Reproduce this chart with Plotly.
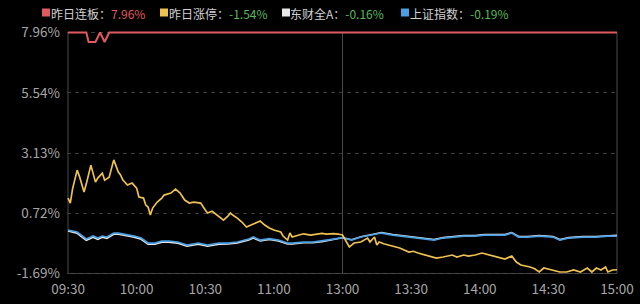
import plotly.graph_objects as go

# ---- data (minutes since 09:30, trading time; 120 = 13:00) ----
red_t = [0, 8, 9, 12, 14, 16, 18, 240]
red_v = [7.96, 7.96, 7.58, 7.58, 7.96, 7.58, 7.96, 7.96]

yel_t = [0, 1, 2, 4, 5, 7, 8, 10, 12, 13, 15, 16, 18, 20, 22, 23, 24, 26, 28, 30, 31, 33, 34, 35, 36, 37,
         39, 41, 42, 45, 47, 49, 51, 53, 55, 58, 60, 61, 63, 64, 66, 68, 70, 71, 72, 74, 76, 78, 80, 82,
         84, 86, 88, 90, 93, 94, 96, 97, 98, 101, 103, 106, 109, 111, 113, 116, 118, 120,
         123, 125, 128, 131, 132, 134, 135, 136, 138, 140, 143, 145, 149, 151, 153, 156, 158, 161,
         164, 166, 168, 170, 173, 175, 178, 181, 184, 187, 189, 191, 194, 196, 198, 201, 202, 204,
         206, 208, 211, 213, 215, 218, 221, 224, 227, 229, 231, 233, 235, 236, 238, 240]
yel_v = [1.33, 1.13, 1.70, 2.45, 2.20, 1.57, 1.90, 2.65, 1.97, 2.13, 2.33, 2.05, 2.17, 2.86, 2.37, 2.25,
         2.05, 1.85, 1.93, 1.73, 1.37, 1.33, 1.05, 0.97, 0.65, 0.93, 1.17, 1.33, 1.45, 1.53, 1.69, 1.53,
         1.25, 1.13, 1.17, 1.13, 0.85, 0.73, 0.80, 0.73, 0.57, 0.45, 0.62, 0.73, 0.65, 0.53, 0.37, 0.17,
         0.25, 0.33, 0.41, 0.25, 0.13, 0.05, -0.03, -0.19, -0.35, -0.07, -0.23, -0.15, -0.10, -0.15,
         -0.11, -0.08, -0.11, -0.09, -0.11, -0.15,
         -0.63, -0.47, -0.43, -0.27, -0.43, -0.23, -0.55, -0.43, -0.50, -0.55, -0.62, -0.67, -0.83,
         -0.80, -0.87, -0.95, -0.99, -1.07, -1.03, -0.98, -0.95, -1.03, -0.95, -0.99, -0.95, -0.87,
         -0.95, -1.03, -1.07, -1.11, -0.99, -1.23, -1.35, -1.39, -1.43, -1.50, -1.63, -1.47, -1.55,
         -1.60, -1.63, -1.63, -1.55, -1.63, -1.47, -1.63, -1.47, -1.55, -1.43, -1.63, -1.55, -1.54]

blue_t = [0, 4, 8, 11, 13, 15, 17, 20, 22, 25, 29, 32, 35, 38, 41, 44, 48, 52, 57, 61, 66, 70, 74, 79,
          81, 84, 88, 92, 96, 98, 103, 107, 111, 116, 120, 124, 128, 133, 137, 142, 146, 150, 155, 159,
          160, 164, 169, 173, 178, 182, 186, 191, 194, 197, 201, 206, 212, 215, 219, 225, 231, 236, 240]
blue_v = [0.05, -0.03, -0.31, -0.19, -0.27, -0.19, -0.23, -0.07, -0.07, -0.11, -0.19, -0.27, -0.47,
          -0.47, -0.39, -0.39, -0.43, -0.55, -0.47, -0.55, -0.47, -0.47, -0.43, -0.31, -0.23, -0.35,
          -0.29, -0.35, -0.47, -0.47, -0.43, -0.43, -0.39, -0.31, -0.25, -0.35, -0.23, -0.15, -0.07,
          -0.15, -0.19, -0.23, -0.27, -0.31, -0.35, -0.27, -0.23, -0.19, -0.19, -0.15, -0.15, -0.15,
          -0.07, -0.23, -0.23, -0.19, -0.23, -0.35, -0.27, -0.23, -0.23, -0.19, -0.19]

white_t = blue_t
white_v = [0.01, -0.08, -0.36, -0.24, -0.32, -0.24, -0.28, -0.12, -0.12, -0.16, -0.24, -0.32, -0.52,
           -0.52, -0.44, -0.44, -0.48, -0.60, -0.52, -0.60, -0.52, -0.51, -0.47, -0.35, -0.27, -0.39,
           -0.33, -0.39, -0.51, -0.51, -0.46, -0.46, -0.42, -0.33, -0.26, -0.34, -0.22, -0.13, -0.05,
           -0.13, -0.17, -0.21, -0.25, -0.29, -0.33, -0.25, -0.21, -0.17, -0.17, -0.13, -0.13, -0.13,
           -0.05, -0.21, -0.21, -0.17, -0.21, -0.33, -0.25, -0.21, -0.21, -0.17, -0.16]

x_tickvals = [0, 30, 60, 90, 120, 150, 180, 210, 240]
x_ticktext = ["09:30", "10:00", "10:30", "11:00", "13:00", "13:30", "14:00", "14:30", "15:00"]
y_tickvals = [7.96, 5.54, 3.13, 0.72, -1.69]
y_ticktext = ["7.96%", "5.54%", "3.13%", "0.72%", "-1.69%"]

legend_names = ["昨日连板：", "昨日涨停：", "东财全A：", "上证指数："]
legend_values = ["7.96%", "-1.54%", "-0.16%", "-0.19%"]

# ---- styles ----
W, H = 640, 304
L, R, T, B = 67, 22, 31, 29
PW, PH = W - L - R, H - T - B
RED, YEL, WHT, BLU = "#e05a5e", "#eec150", "#e8e8e8", "#4a9fe3"
GREEN = "#58b85a"
FONT = "Noto Sans CJK SC, Noto Sans, sans-serif"

fig = go.Figure()
fig.add_trace(go.Scatter(x=white_t, y=white_v, mode="lines", line=dict(color=WHT, width=1.6)))
fig.add_trace(go.Scatter(x=blue_t, y=blue_v, mode="lines", line=dict(color=BLU, width=1.7)))
fig.add_trace(go.Scatter(x=yel_t, y=yel_v, mode="lines", line=dict(color=YEL, width=1.7)))
fig.add_trace(go.Scatter(x=red_t, y=red_v, mode="lines", line=dict(color=RED, width=2)))

fig.update_layout(
    width=W, height=H, margin=dict(l=L, r=R, t=T, b=B, autoexpand=False),
    paper_bgcolor="#000000", plot_bgcolor="#000000",
    showlegend=False,
    font=dict(family=FONT, size=13, color="#a6a6a6"),
    xaxis=dict(range=[-0.44, 240.44], tickvals=x_tickvals, ticktext=x_ticktext,
               showgrid=False, zeroline=False, showline=False, automargin=False,
               tickfont=dict(size=13.5, color="#a6a6a6"), ticks="", ticklabelstandoff=4),
    yaxis=dict(range=[-1.75, 8.02], tickvals=y_tickvals, ticktext=y_ticktext,
               showgrid=True, gridcolor="#3c3c3c", griddash="4px,4px", gridwidth=1,
               zeroline=False, showline=False, ticks="", automargin=False,
               tickfont=dict(size=13.5, color="#a6a6a6"), ticklabelstandoff=6),
)

line_col = "#4a4a4a"
for x0, x1, y0, y1 in [(0, 0, -1.69, 7.96), (240, 240, -1.69, 7.96), (120, 120, -1.69, 7.96),
                       (0, 240, -1.69, -1.69)]:
    fig.add_shape(type="line", xref="x", yref="y", x0=x0, x1=x1, y0=y0, y1=y1,
                  line=dict(color=line_col, width=1), layer="below")


def px(xp):
    return (xp - L) / PW


def py(yp):
    return 1 - (yp - T) / PH


square_x = [42, 160, 282, 401]
label_x = [49, 167, 288, 408]
colors = [RED, YEL, WHT, BLU]
value_colors = [RED, GREEN, GREEN, GREEN]
for i in range(4):
    fig.add_shape(type="rect", xref="paper", yref="paper",
                  x0=px(square_x[i]), x1=px(square_x[i] + 8), y0=py(16.5), y1=py(8.5),
                  fillcolor=colors[i], line=dict(width=0))
    txt = (f"{legend_names[i]}<span style='color:{value_colors[i]}'>{legend_values[i]}</span>")
    fig.add_annotation(xref="paper", yref="paper", x=px(label_x[i]), y=py(13),
                       xanchor="left", yanchor="middle", showarrow=False,
                       text=txt, font=dict(size=12, color="#d0d0d0", family=FONT))

fig.write_html("out.html")
